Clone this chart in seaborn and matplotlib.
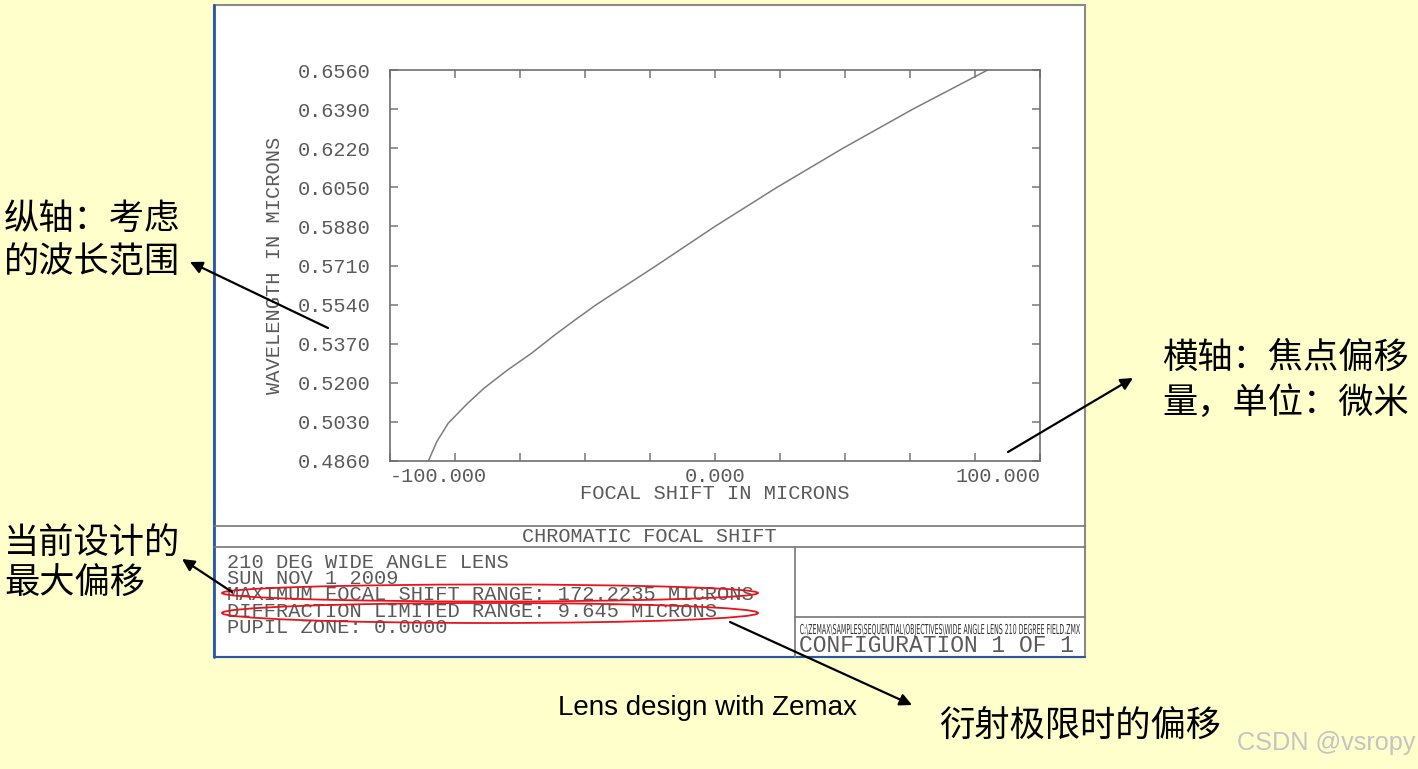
import numpy as np
import pandas as pd
import matplotlib
matplotlib.use("Agg")
import matplotlib.pyplot as plt
from matplotlib.patches import Rectangle, Ellipse, PathPatch
from matplotlib.textpath import TextPath
from matplotlib.font_manager import FontProperties
from matplotlib.transforms import Affine2D
import seaborn as sns

sns.set_style("white")
plt.rcParams["font.family"] = ["Noto Sans CJK SC", "DejaVu Sans"]

# ==========================================
# Data
# ==========================================
wavelength = [0.4860, 0.4944, 0.5024, 0.5111, 0.5176, 0.5256, 0.5328, 0.5408,
              0.5473, 0.5540, 0.5710, 0.5880, 0.6050, 0.6220, 0.6390, 0.6560]
focal_shift = [-88.2, -85.6, -82.1, -76.1, -71.1, -63.8, -56.5, -49.3,
               -43.1, -36.5, -18.0, 0.0, 19.1, 39.4, 60.9, 83.9]

y_ticks = [0.4860, 0.5030, 0.5200, 0.5370, 0.5540, 0.5710,
           0.5880, 0.6050, 0.6220, 0.6390, 0.6560]
x_ticks = [-100, -80, -60, -40, -20, 0, 20, 40, 60, 80, 100]
x_labels = ["-100.000", "", "", "", "", "0.000", "", "", "", "", "100.000"]

info_lines = [
    "210 DEG WIDE ANGLE LENS",
    "SUN NOV 1 2009",
    "MAXIMUM FOCAL SHIFT RANGE: 172.2235 MICRONS",
    "DIFFRACTION LIMITED RANGE: 9.645 MICRONS",
    "PUPIL ZONE: 0.0000",
]
file_path = r"C:\ZEMAX\SAMPLES\SEQUENTIAL\OBJECTIVES\WIDE ANGLE LENS 210 DEGREE FIELD.ZMX"

df = pd.DataFrame({"shift": focal_shift, "wl": wavelength})

W, H = 1418, 769
BG = "#FFFFCC"
ZGRAY = "#5a5a5a"
MONO = "Liberation Mono"

fig = plt.figure(figsize=(W / 100, H / 100), dpi=100, facecolor=BG)

# background overlay in pixel coordinates
bg = fig.add_axes([0, 0, 1, 1], zorder=0)
bg.set_xlim(0, W)
bg.set_ylim(H, 0)
bg.axis("off")

bg.add_patch(Rectangle((214, 5), 871, 652, facecolor="white", edgecolor="#8a8a8a", lw=1.5))
bg.plot([214, 214], [5, 657], color="#2a56a8", lw=2)
bg.plot([214, 1085], [657, 657], color="#2a56a8", lw=1.5)
bg.plot([214, 1085], [526, 526], color="#777777", lw=1.2)
bg.plot([214, 1085], [547, 547], color="#777777", lw=1.2)
bg.plot([795, 795], [547, 657], color="#777777", lw=1.2)
bg.plot([795, 1085], [617, 617], color="#777777", lw=1.2)

bg.text(649, 537, "CHROMATIC FOCAL SHIFT", family=MONO, fontsize=14.5,
        color=ZGRAY, ha="center", va="center")
for i, line in enumerate(info_lines):
    bg.text(227, 562 + i * 16.4, line, family=MONO, fontsize=14.7,
            color=ZGRAY, ha="left", va="center")

# condensed file path line (squeezed to fit the box like the original)
tp = TextPath((0, 0), file_path, size=10, prop=FontProperties(family="DejaVu Sans"))
ext = tp.get_extents()
sx = 280 / ext.width
sy = 10 / 7.3
path_tr = Affine2D().translate(-ext.x0, 0).scale(sx, -sy).translate(800, 634) + bg.transData
bg.add_patch(PathPatch(tp, transform=path_tr, facecolor="#333333", edgecolor="none"))

bg.text(799, 646, "CONFIGURATION 1 OF 1", family=MONO, fontsize=16.5,
        color=ZGRAY, ha="left", va="center")

# ==========================================
# Main chart
# ==========================================
ax = fig.add_axes([390 / W, 1 - 461 / H, 650 / W, 391 / H], zorder=1)
ax.set_facecolor("white")
sns.lineplot(data=df, x="shift", y="wl", ax=ax, color="#7d7d7d", lw=1.1,
             sort=False, estimator=None)

ax.set_xlim(-100, 100)
ax.set_ylim(0.4860, 0.6560)
ax.set_xticks(x_ticks)
ax.set_xticklabels(x_labels)
ax.set_yticks(y_ticks)
ax.set_yticklabels([f"{v:.4f}" for v in y_ticks])

for lbl, ha in zip(ax.get_xticklabels(), ["left"] + ["center"] * 9 + ["right"]):
    lbl.set_ha(ha)

ax.tick_params(axis="both", direction="in", length=6, width=1.1, color="#777777",
               labelsize=14.6, labelcolor=ZGRAY, top=True, right=True,
               bottom=True, left=True)
ax.tick_params(axis="y", pad=14)
ax.tick_params(axis="x", pad=4)
for lbl in ax.get_xticklabels() + ax.get_yticklabels():
    lbl.set_family(MONO)

for sp in ax.spines.values():
    sp.set_color("#6e6e6e")
    sp.set_linewidth(1.2)

ax.set_xlabel("FOCAL SHIFT IN MICRONS", family=MONO, fontsize=14.7,
              color=ZGRAY, labelpad=-1)
ax.set_ylabel("WAVELENGTH IN MICRONS", family=MONO, fontsize=14.7,
              color=ZGRAY, labelpad=10)

# ==========================================
# Foreground annotations (pixel coordinates)
# ==========================================
fg = fig.add_axes([0, 0, 1, 1], zorder=2)
fg.set_xlim(0, W)
fg.set_ylim(H, 0)
fg.axis("off")
fg.patch.set_alpha(0)

fg.add_patch(Ellipse((490, 593), 536, 17, facecolor="none", edgecolor="#e8141c", lw=1.3))
fg.add_patch(Ellipse((490, 613), 536, 20, facecolor="none", edgecolor="#e8141c", lw=1.3))

arrows = [((328, 328), (190, 262)),
          ((1008, 452), (1133, 378)),
          ((232, 592), (182, 559)),
          ((730, 622), (912, 705))]
for (x0, y0), (x1, y1) in arrows:
    fg.annotate("", xy=(x1, y1), xytext=(x0, y0),
                arrowprops=dict(arrowstyle="-|>", color="black", lw=1.6,
                                mutation_scale=18, shrinkA=0, shrinkB=0))

cjk = dict(fontsize=25.4, color="black", va="center", ha="left")
fg.text(4, 219, "纵轴：考虑", **cjk)
fg.text(4, 263, "的波长范围", **cjk)
fg.text(1162, 358, "横轴：焦点偏移", **cjk)
fg.text(1162, 403, "量，单位：微米", **cjk)
fg.text(4, 543, "当前设计的", **cjk)
fg.text(4, 584, "最大偏移", **cjk)
fg.text(939, 727, "衍射极限时的偏移", **cjk)
fg.text(558, 708, "Lens design with Zemax", family="Liberation Sans", fontsize=20,
        color="black", va="center", ha="left")
fg.text(1237, 743, "CSDN @vsropy", family="Liberation Sans", fontsize=18.2,
        color="#c4c4c4", va="center", ha="left")

fig.savefig("out.png", dpi=100, facecolor=BG)
